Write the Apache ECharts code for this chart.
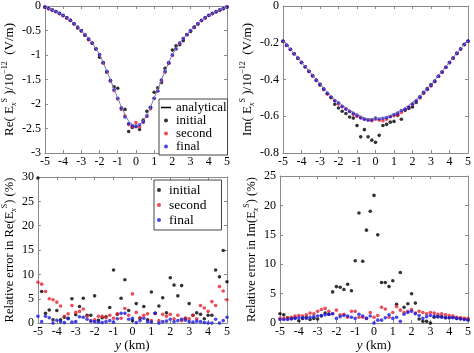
<!DOCTYPE html>
<html>
<head>
<meta charset="utf-8">
<script src="https://cdn.jsdelivr.net/npm/echarts@6/dist/echarts.min.js"></script>
<style>html,body{margin:0;padding:0;background:#fff;}#c{width:474px;height:353px;}</style>
</head>
<body>
<div id="c"></div>
<script>
// ---- data ----
const yKm = [-5,-4.8,-4.6,-4.4,-4.2,-4,-3.8,-3.6,-3.4,-3.2,-3,-2.8,-2.6,-2.4,-2.2,-2,-1.8,-1.6,-1.4,-1.2,-1,-0.8,-0.6,-0.4,-0.2,0,0.2,0.4,0.6,0.8,1,1.2,1.4,1.6,1.8,2,2.2,2.4,2.6,2.8,3,3.2,3.4,3.6,3.8,4,4.2,4.4,4.6,4.8,5];

const reAnalytical = [-0.02,-0.05,-0.08,-0.11,-0.15,-0.19,-0.24,-0.29,-0.36,-0.43,-0.50,-0.58,-0.66,-0.75,-0.87,-0.99,-1.15,-1.33,-1.51,-1.70,-1.88,-2.06,-2.22,-2.35,-2.42,-2.44,-2.42,-2.35,-2.22,-2.06,-1.88,-1.70,-1.51,-1.33,-1.15,-0.99,-0.87,-0.75,-0.66,-0.58,-0.50,-0.43,-0.36,-0.29,-0.24,-0.19,-0.15,-0.11,-0.08,-0.05,-0.02];
const reInitial = [-0.026,-0.053,-0.082,-0.113,-0.151,-0.195,-0.242,-0.294,-0.364,-0.45,-0.51,-0.60,-0.69,-0.76,-0.88,-1.045,-1.16,-1.35,-1.53,-1.65,-1.68,-2.10,-2.11,-2.56,-2.48,-2.45,-2.52,-2.33,-2.15,-2.07,-1.76,-1.67,-1.56,-1.27,-1.17,-0.90,-0.81,-0.79,-0.71,-0.586,-0.52,-0.437,-0.367,-0.295,-0.242,-0.193,-0.152,-0.122,-0.088,-0.057,-0.022];
const reSecond = [-0.022,-0.054,-0.085,-0.116,-0.157,-0.198,-0.248,-0.294,-0.367,-0.445,-0.511,-0.594,-0.679,-0.761,-0.874,-0.997,-1.166,-1.349,-1.527,-1.727,-1.899,-2.099,-2.242,-2.42,-2.46,-2.38,-2.47,-2.376,-2.256,-2.099,-1.889,-1.734,-1.518,-1.354,-1.166,-1.008,-0.878,-0.762,-0.663,-0.586,-0.505,-0.437,-0.363,-0.30,-0.247,-0.195,-0.157,-0.114,-0.086,-0.053,-0.021];
const reFinal = [-0.02,-0.05,-0.081,-0.111,-0.15,-0.191,-0.24,-0.29,-0.363,-0.431,-0.501,-0.588,-0.668,-0.756,-0.873,-0.993,-1.152,-1.331,-1.515,-1.709,-1.884,-2.079,-2.264,-2.397,-2.439,-2.464,-2.422,-2.362,-2.242,-2.066,-1.884,-1.734,-1.51,-1.334,-1.155,-0.998,-0.873,-0.754,-0.665,-0.583,-0.502,-0.431,-0.361,-0.291,-0.24,-0.19,-0.15,-0.111,-0.08,-0.05,-0.0202];

const imAnalytical = [-0.19,-0.212,-0.235,-0.258,-0.281,-0.305,-0.328,-0.352,-0.376,-0.40,-0.423,-0.446,-0.468,-0.49,-0.508,-0.523,-0.54,-0.553,-0.567,-0.578,-0.589,-0.60,-0.609,-0.615,-0.613,-0.61,-0.612,-0.608,-0.602,-0.595,-0.586,-0.577,-0.567,-0.553,-0.54,-0.523,-0.508,-0.49,-0.468,-0.448,-0.427,-0.405,-0.378,-0.355,-0.33,-0.305,-0.28,-0.256,-0.232,-0.208,-0.19];
const imInitial = [-0.193,-0.215,-0.237,-0.26,-0.284,-0.306,-0.331,-0.355,-0.378,-0.403,-0.426,-0.451,-0.476,-0.497,-0.535,-0.555,-0.573,-0.585,-0.604,-0.61,-0.651,-0.712,-0.673,-0.712,-0.73,-0.742,-0.704,-0.65,-0.644,-0.632,-0.628,-0.595,-0.616,-0.568,-0.558,-0.55,-0.525,-0.494,-0.47,-0.449,-0.427,-0.409,-0.382,-0.359,-0.333,-0.308,-0.283,-0.258,-0.234,-0.21,-0.192];
const imSecond = [-0.192,-0.214,-0.237,-0.261,-0.284,-0.309,-0.332,-0.357,-0.382,-0.406,-0.431,-0.456,-0.48,-0.5,-0.516,-0.534,-0.548,-0.561,-0.573,-0.59,-0.601,-0.606,-0.615,-0.62,-0.624,-0.616,-0.62,-0.624,-0.616,-0.601,-0.597,-0.593,-0.579,-0.563,-0.551,-0.535,-0.517,-0.5,-0.476,-0.455,-0.435,-0.412,-0.384,-0.361,-0.335,-0.309,-0.283,-0.259,-0.234,-0.21,-0.192];
const imFinal = [-0.191,-0.213,-0.236,-0.26,-0.283,-0.308,-0.331,-0.355,-0.38,-0.404,-0.428,-0.452,-0.475,-0.497,-0.516,-0.527,-0.546,-0.56,-0.574,-0.584,-0.594,-0.609,-0.616,-0.62,-0.62,-0.61,-0.615,-0.611,-0.607,-0.603,-0.591,-0.583,-0.569,-0.561,-0.55,-0.533,-0.516,-0.496,-0.472,-0.453,-0.433,-0.41,-0.382,-0.359,-0.333,-0.308,-0.283,-0.258,-0.234,-0.209,-0.191];

const errReInitial = [29.8,6.5,2.0,2.7,0.7,2.6,0.7,1.2,1.0,5.0,1.7,3.4,5.1,1.6,1.6,5.6,0.6,1.1,1.3,3.2,10.9,1.8,5.1,8.9,2.6,0.5,4.0,1.0,3.4,0.7,6.4,2.0,3.5,5.2,2.1,9.3,7.8,5.6,7.7,1.0,4.0,1.6,2.1,1.8,0.9,1.6,1.6,10.9,9.5,14.9,8.5];
const errReSecond = [8.4,8.0,6.5,5.0,4.8,4.3,3.5,1.4,1.9,3.6,2.2,2.4,2.9,1.4,0.5,0.7,1.4,1.4,1.1,1.6,1.0,1.9,1.0,3.0,1.6,6.0,2.2,1.1,1.6,1.9,0.5,2.0,0.5,1.8,1.4,1.8,0.9,1.6,0.5,1.0,0.9,1.6,0.9,3.6,3.1,2.4,4.4,3.6,7.5,6.6,4.8];
const errReFinal = [1.4,0.3,1.4,1.1,0.0,0.6,0.3,0.1,0.9,0.2,0.3,1.3,1.2,0.8,0.4,0.3,0.2,0.1,0.3,0.5,0.2,0.9,2.0,2.0,0.8,1.0,0.1,0.5,1.0,0.3,0.2,2.0,0.0,0.3,0.4,0.8,0.3,0.5,0.8,0.6,0.3,0.2,0.4,0.3,0.1,0.0,0.0,0.8,0.0,0.5,1.2];

const errImInitial = [1.6,1.4,0.9,0.8,0.9,0.4,0.8,1.0,0.6,0.8,0.7,1.2,1.7,1.5,5.3,6.2,6.1,5.7,6.6,5.5,10.6,18.7,10.5,15.8,19.0,21.7,15.0,6.9,6.9,6.2,7.2,3.2,8.6,2.7,3.3,5.0,3.4,0.7,0.3,0.3,0.0,1.0,1.1,1.1,0.9,0.9,1.0,0.8,0.8,0.7,0.6];
const errImSecond = [0.8,0.8,0.8,1.0,1.2,1.3,1.2,1.4,1.7,1.6,2.0,2.3,2.5,2.0,1.6,2.2,1.4,1.5,1.0,2.0,2.0,1.0,1.0,0.8,1.8,1.0,1.3,2.7,2.4,1.0,1.8,2.8,2.2,1.8,2.0,2.3,1.7,2.0,1.8,1.6,1.8,1.7,1.5,1.6,1.4,1.3,1.2,1.0,0.9,0.8,0.8];
const errImFinal = [0.6,0.6,0.6,0.7,0.8,0.9,0.9,0.8,1.0,1.1,1.2,1.3,1.4,1.5,1.6,0.8,1.1,1.3,1.2,1.0,0.8,1.5,1.2,0.8,1.2,0.0,0.5,0.5,0.9,1.4,0.8,1.0,0.3,1.5,1.8,2.0,1.6,1.3,0.8,1.1,1.3,1.2,1.1,1.0,0.9,0.9,0.9,0.8,0.7,0.6,0.5];

// axis ranges / tick steps
const xRange = {min: -5, max: 5, interval: 1};
const yRanges = [
  {min: -3, max: 0, interval: 0.5},
  {min: -0.8, max: 0, interval: 0.2},
  {min: 0, max: 30, interval: 5},
  {min: 0, max: 25, interval: 5}
];

// ---- styling ----
const SERIF = '"Liberation Serif", "Times New Roman", serif';
const FRAME = '#8a8a8a';
const C_INIT = '#000000', C_SEC = '#e8202a', C_FIN = '#1a1ae6';

const grids = [
  {left: 40, top: 5, width: 187, height: 148},
  {left: 283, top: 5, width: 185, height: 148},
  {left: 36, top: 177, width: 191, height: 147},
  {left: 280, top: 176, width: 190, height: 148}
];

const richY = {
  n: {fontFamily: SERIF, fontSize: 13, color: '#000', lineHeight: 17},
  sub: {fontFamily: SERIF, fontSize: 8, color: '#000', fontStyle: 'italic', lineHeight: 9, verticalAlign: 'bottom'},
  sup: {fontFamily: SERIF, fontSize: 8, color: '#000', lineHeight: 9, verticalAlign: 'top'}
};
const richY2 = JSON.parse(JSON.stringify(richY));
richY2.n.fontSize = 12.5;

const yNames = [
  '{n|Re( E}{sub|x}{sup|S}{n| )/10}{sup|−12}{n|  (V/m)}',
  '{n|Im( E}{sub|x}{sup|S}{n| )/10}{sup|−12}{n|  (V/m)}',
  '{n|Relative error in Re(E}{sub|x}{sup|S}{n|) (%)}',
  '{n|Relative error in Im(E}{sub|x}{sup|S}{n|) (%)}'
];
const yNameGaps = [22, 25, 16, 19];

const xAxes = [], yAxes = [];
grids.forEach((g, gi) => {
  const common = {
    type: 'value', gridIndex: gi, min: xRange.min, max: xRange.max, interval: xRange.interval,
    axisLine: {show: true, onZero: false, lineStyle: {color: FRAME, width: 1}},
    axisTick: {show: true, inside: true, length: 3, lineStyle: {color: FRAME}},
    splitLine: {show: false}
  };
  const bottom = Object.assign({}, common, {
    position: 'bottom',
    axisLabel: {color: '#000', fontFamily: SERIF, fontSize: 12, margin: 3}
  });
  if (gi >= 2) {
    Object.assign(bottom, {
      name: '{i|y}{n| (km)}', nameLocation: 'middle', nameGap: 13,
      nameTextStyle: {rich: {
        i: {fontFamily: SERIF, fontSize: 13, fontStyle: 'italic', color: '#000'},
        n: {fontFamily: SERIF, fontSize: 13, color: '#000'}
      }}
    });
  }
  xAxes.push(bottom);
  xAxes.push(Object.assign({}, common, {position: 'top', axisLabel: {show: false}}));

  const yr = yRanges[gi];
  const yc = {
    type: 'value', gridIndex: gi, min: yr.min, max: yr.max, interval: yr.interval,
    axisLine: {show: true, onZero: false, lineStyle: {color: FRAME, width: 1}},
    axisTick: {show: true, inside: true, length: 3, lineStyle: {color: FRAME}},
    splitLine: {show: false}
  };
  yAxes.push(Object.assign({}, yc, {
    position: 'left',
    axisLabel: {color: '#000', fontFamily: SERIF, fontSize: 12, margin: 4},
    name: yNames[gi], nameLocation: 'middle', nameRotate: 90, nameGap: yNameGaps[gi],
    nameTextStyle: {rich: gi < 2 ? richY : richY2}
  }));
  yAxes.push(Object.assign({}, yc, {position: 'right', axisLabel: {show: false}}));
});

function pts(vals) { return yKm.map((y, i) => [y, vals[i]]); }
function scatter(name, gi, vals, color) {
  return {
    type: 'scatter', name: name, xAxisIndex: 2 * gi, yAxisIndex: 2 * gi,
    data: pts(vals), symbol: 'circle', symbolSize: 3.6,
    itemStyle: {color: color}, silent: true
  };
}

const series = [
  {type: 'line', name: 'analytical', xAxisIndex: 0, yAxisIndex: 0, data: pts(reAnalytical),
   symbol: 'none', lineStyle: {color: '#7a78b0', width: 1}, itemStyle: {color: '#000'}, silent: true},
  scatter('initial', 0, reInitial, C_INIT),
  scatter('second', 0, reSecond, C_SEC),
  scatter('final', 0, reFinal, C_FIN),
  {type: 'line', name: 'analytical', xAxisIndex: 2, yAxisIndex: 2, data: pts(imAnalytical),
   symbol: 'none', lineStyle: {color: '#7a78b0', width: 1}, itemStyle: {color: '#000'}, silent: true},
  scatter('initial', 1, imInitial, C_INIT),
  scatter('second', 1, imSecond, C_SEC),
  scatter('final', 1, imFinal, C_FIN),
  scatter('initial', 2, errReInitial, C_INIT),
  scatter('second', 2, errReSecond, C_SEC),
  scatter('final', 2, errReFinal, C_FIN),
  scatter('initial', 3, errImInitial, C_INIT),
  scatter('second', 3, errImSecond, C_SEC),
  scatter('final', 3, errImFinal, C_FIN)
];

const legendText = {fontFamily: SERIF, fontSize: 13, color: '#000', lineHeight: 12};
const option = {
  animation: false,
  backgroundColor: '#fff',
  grid: grids,
  xAxis: xAxes,
  yAxis: yAxes,
  legend: [
    {
      left: 159, top: 99, orient: 'vertical', selectedMode: false,
      data: [
        {name: 'analytical', icon: 'path://M0,0 L10,0 L10,1.5 L0,1.5 Z', itemStyle: {color: '#000'}},
        'initial', 'second', 'final'
      ],
      itemWidth: 10, itemHeight: 4, itemGap: 0,
      borderColor: '#444', borderWidth: 1, padding: [2, 1, 2, 2],
      backgroundColor: '#fff', textStyle: legendText
    },
    {
      left: 154, top: 180, orient: 'vertical', selectedMode: false,
      data: ['initial', 'second', 'final'],
      itemWidth: 10, itemHeight: 4, itemGap: 1,
      borderColor: '#444', borderWidth: 1, padding: [3, 15, 3, 3],
      backgroundColor: '#fff', textStyle: Object.assign({}, legendText, {fontSize: 13.5})
    }
  ],
  series: series
};

const chart = echarts.init(document.getElementById('c'), null, {renderer: 'canvas'});
chart.setOption(option);
</script>
</body>
</html>
